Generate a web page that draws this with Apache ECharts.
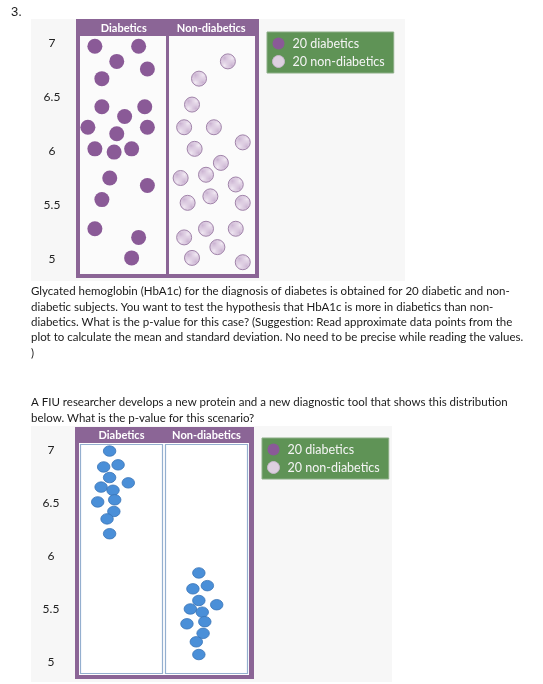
<!DOCTYPE html>
<html>
<head>
<meta charset="utf-8">
<script src="https://cdn.jsdelivr.net/npm/echarts@6/dist/echarts.min.js"></script>
<style>
html,body{margin:0;padding:0;background:#fff;}
#chart{width:543px;height:684px;}
</style>
</head>
<body>
<div id="chart"></div>
<script>
// ---- Data ----
const columnHeaders = ['Diabetics', 'Non-diabetics'];
const yTickValues = [5, 5.5, 6, 6.5, 7];
const legendNames = ['20 diabetics', '20 non-diabetics'];

// Chart 1: HbA1c values (y) and horizontal jitter within the column (x)
const chart1DiabeticsY = [6.97, 6.97, 6.83, 6.76, 6.67, 6.41, 6.41, 6.32, 6.22, 6.22, 6.16, 6.02, 5.99, 6.02, 5.75, 5.68, 5.55, 5.28, 5.20, 5.01];
const chart1DiabeticsX = [0.17, 0.67, 0.42, 0.77, 0.25, 0.25, 0.74, 0.51, 0.09, 0.77, 0.42, 0.17, 0.39, 0.59, 0.34, 0.77, 0.25, 0.17, 0.67, 0.59];
const chart1NonDiabeticsY = [6.83, 6.67, 6.43, 6.22, 6.22, 6.08, 6.02, 5.89, 5.75, 5.78, 5.69, 5.52, 5.58, 5.52, 5.28, 5.28, 5.20, 5.11, 5.01, 4.97];
const chart1NonDiabeticsX = [1.69, 1.36, 1.28, 1.19, 1.53, 1.86, 1.31, 1.61, 1.15, 1.44, 1.78, 1.23, 1.49, 1.86, 1.44, 1.78, 1.19, 1.57, 1.28, 1.86];

// Chart 2: new diagnostic tool
const chart2DiabeticsY = [6.99, 6.84, 6.86, 6.74, 6.69, 6.65, 6.62, 6.51, 6.53, 6.42, 6.35, 6.21];
const chart2DiabeticsX = [0.36, 0.29, 0.46, 0.36, 0.58, 0.26, 0.40, 0.22, 0.42, 0.41, 0.33, 0.36];
const chart2NonDiabeticsY = [5.84, 5.69, 5.72, 5.58, 5.54, 5.50, 5.47, 5.38, 5.36, 5.27, 5.19, 5.07];
const chart2NonDiabeticsX = [1.41, 1.34, 1.51, 1.41, 1.62, 1.31, 1.45, 1.48, 1.27, 1.46, 1.38, 1.41];

const para1 = [
  'Glycated hemoglobin (HbA1c) for the diagnosis of diabetes is obtained for 20 diabetic and non-',
  'diabetic subjects. You want to test the hypothesis that HbA1c is more in diabetics than non-',
  'diabetics. What is the p-value for this case? (Suggestion: Read approximate data points from the',
  'plot to calculate the mean and standard deviation. No need to be precise while reading the values.',
  ')'
];
const para2 = [
  'A FIU researcher develops a new protein and a new diagnostic tool that shows this distribution',
  'below. What is the p-value for this scenario?'
];

// ---- Styles ----
const PURPLE = '#8b6596';
const DOT_PURPLE = '#8a5a97';
const BLUE = '#4a8fd8';
const FONT = 'Lato';

// stippled fill pattern for the non-diabetic dots
const patCanvas = document.createElement('canvas');
patCanvas.width = 2; patCanvas.height = 2;
(function () {
  const c = patCanvas.getContext('2d');
  c.fillStyle = '#f1e9f3'; c.fillRect(0, 0, 2, 2);
  c.fillStyle = '#cbb3d2'; c.fillRect(0, 0, 1, 1); c.fillRect(1, 1, 1, 1);
})();
const stippleFill = { image: patCanvas, repeat: 'repeat' };
const nonDiabStyle = { color: stippleFill, borderColor: '#a184aa', borderWidth: 1 };
const zip = (xs, ys) => xs.map((x, i) => [x, ys[i]]);

const chart = echarts.init(document.getElementById('chart'), null, { renderer: 'canvas' });

function yAxisFor(gridIndex, min, max, margin) {
  return {
    type: 'value', gridIndex, min, max,
    axisLine: { show: false }, axisTick: { show: false }, splitLine: { show: false },
    axisLabel: {
      customValues: yTickValues, align: 'center', margin,
      fontFamily: FONT, fontSize: 12, color: '#222'
    }
  };
}
function headerAxis(gridIndex, margin) {
  return {
    type: 'category', gridIndex, position: 'top', data: columnHeaders,
    axisLine: { show: false }, axisTick: { show: false }, splitLine: { show: false },
    axisLabel: { interval: 0, hideOverlap: false, margin, verticalAlign: 'middle', color: '#fff', fontWeight: 'bold', fontFamily: FONT, fontSize: 11 }
  };
}
function legendFor(left, top) {
  return {
    orient: 'vertical', left, top, padding: [5, 9, 5, 5], itemGap: 5,
    itemWidth: 12, itemHeight: 12, icon: 'circle',
    backgroundColor: '#5f9356', borderColor: '#8cae86', borderWidth: 1,
    selectedMode: false,
    textStyle: { color: '#f4f4f4', fontFamily: FONT, fontSize: 12.5, padding: [0, 0, 0, 3] },
    data: [
      { name: legendNames[0], itemStyle: { color: DOT_PURPLE, borderWidth: 0 } },
      { name: legendNames[1], itemStyle: { color: '#ddd0e0', borderColor: '#c8b8cc', borderWidth: 1 } }
    ]
  };
}

const option = {
  animation: false,
  backgroundColor: '#ffffff',
  title: [
    { text: '3.', left: 11, top: 6, padding: 0, textStyle: { fontFamily: 'Liberation Sans', fontSize: 13, fontWeight: 'normal', color: '#222' } },
    { text: para1.join('\n'), left: 31, top: 284, padding: 0, textStyle: { fontFamily: FONT, fontSize: 11.5, lineHeight: 15.3, fontWeight: 'normal', color: '#1a1a1a' } },
    { text: para2.join('\n'), left: 31, top: 394, padding: 0, textStyle: { fontFamily: FONT, fontSize: 11.5, lineHeight: 16, fontWeight: 'normal', color: '#1a1a1a' } }
  ],
  graphic: [
    // chart 1 decoration
    { type: 'rect', z: -10, shape: { x: 31, y: 19, width: 374, height: 262 }, style: { fill: '#f7f7f7' } },
    { type: 'rect', z: -9, shape: { x: 76, y: 19, width: 183, height: 259 }, style: { fill: PURPLE } },
    { type: 'rect', z: -8, shape: { x: 80, y: 36, width: 175, height: 238 }, style: { fill: '#fbfbfb' } },
    // chart 2 decoration
    { type: 'rect', z: -10, shape: { x: 31, y: 426, width: 361, height: 256 }, style: { fill: '#f7f7f7' } },
    { type: 'rect', z: -9, shape: { x: 75, y: 427, width: 179, height: 252 }, style: { fill: PURPLE } },
    { type: 'rect', z: -8, shape: { x: 79, y: 443, width: 170, height: 232 }, style: { fill: '#ffffff' } },
    { type: 'rect', z: -7, shape: { x: 80.5, y: 444.5, width: 82, height: 229 }, style: { fill: '#ffffff', stroke: '#94afcf', lineWidth: 1.2 } },
    { type: 'rect', z: -7, shape: { x: 165.5, y: 444.5, width: 82, height: 229 }, style: { fill: '#ffffff', stroke: '#94afcf', lineWidth: 1.2 } }
  ],
  legend: [legendFor(267, 32), legendFor(262, 438)],
  grid: [
    { left: 80, top: 36, width: 175, height: 238, containLabel: false },
    { left: 79, top: 443, width: 170, height: 232, containLabel: false }
  ],
  xAxis: [
    {
      type: 'value', gridIndex: 0, min: 0, max: 2, interval: 1,
      axisLine: { show: false }, axisTick: { show: false }, axisLabel: { show: false },
      splitLine: { show: true, showMinLine: false, showMaxLine: false, lineStyle: { color: PURPLE, width: 3 } }
    },
    headerAxis(0, 8),
    {
      type: 'value', gridIndex: 1, min: 0, max: 2, interval: 1,
      axisLine: { show: false }, axisTick: { show: false }, axisLabel: { show: false }, splitLine: { show: false }
    },
    headerAxis(1, 8)
  ],
  yAxis: [
    yAxisFor(0, 4.861, 7.065, 28),
    yAxisFor(1, 4.877, 7.066, 28)
  ],
  series: [
    {
      name: legendNames[0], type: 'scatter', xAxisIndex: 0, yAxisIndex: 0,
      symbolSize: 15, itemStyle: { color: DOT_PURPLE, opacity: 1 },
      data: zip(chart1DiabeticsX, chart1DiabeticsY)
    },
    {
      name: legendNames[1], type: 'scatter', xAxisIndex: 0, yAxisIndex: 0,
      symbolSize: 15, itemStyle: Object.assign({ opacity: 1 }, nonDiabStyle),
      data: zip(chart1NonDiabeticsX, chart1NonDiabeticsY)
    },
    {
      name: legendNames[0], type: 'scatter', xAxisIndex: 2, yAxisIndex: 1,
      symbolSize: [12.5, 10.5], itemStyle: { color: BLUE, borderColor: '#3a74b6', borderWidth: 0.8, opacity: 1 },
      data: zip(chart2DiabeticsX, chart2DiabeticsY)
    },
    {
      name: legendNames[1], type: 'scatter', xAxisIndex: 2, yAxisIndex: 1,
      symbolSize: [12.5, 10.5], itemStyle: { color: BLUE, borderColor: '#3a74b6', borderWidth: 0.8, opacity: 1 },
      data: zip(chart2NonDiabeticsX, chart2NonDiabeticsY)
    }
  ]
};
chart.setOption(option);
</script>
</body>
</html>
